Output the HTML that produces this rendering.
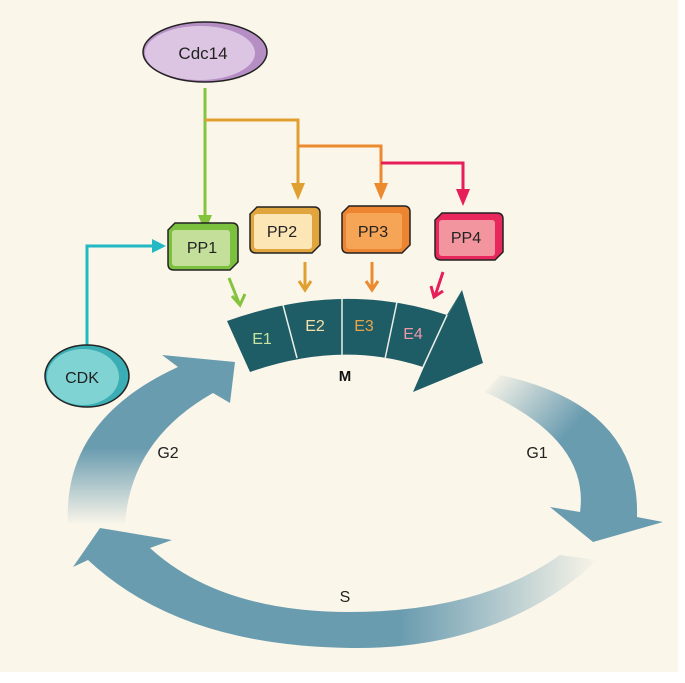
<!DOCTYPE html>
<html><head><meta charset="utf-8"><style>
html,body{margin:0;padding:0;background:#fff;}
svg{display:block;font-family:"Liberation Sans",sans-serif;}
</style></head><body>
<svg width="685" height="683" viewBox="0 0 685 683" xmlns="http://www.w3.org/2000/svg">
<defs>
<linearGradient id="gG2" x1="0" y1="355" x2="0" y2="525" gradientUnits="userSpaceOnUse">
<stop offset="0" stop-color="#6a9cb0"/><stop offset="0.55" stop-color="#6a9cb0"/><stop offset="1" stop-color="#fbf6ea"/></linearGradient>
<linearGradient id="gS" x1="100" y1="0" x2="600" y2="0" gradientUnits="userSpaceOnUse">
<stop offset="0" stop-color="#6a9cb0"/><stop offset="0.6" stop-color="#6a9cb0"/><stop offset="1" stop-color="#fbf6ea"/></linearGradient>
<linearGradient id="gG1" x1="500" y1="365" x2="620" y2="470" gradientUnits="userSpaceOnUse">
<stop offset="0" stop-color="#fbf6ea"/><stop offset="0.6" stop-color="#6a9cb0"/><stop offset="1" stop-color="#6a9cb0"/></linearGradient>
</defs>
<rect x="0" y="0" width="678" height="672" fill="#fbf6ea"/>

<!-- G2 arrow -->
<path d="M68,525 Q62,420 178,367 L162,355 L235,362 L230,403 L213,393 Q130,440 125,525 Z" fill="url(#gG2)"/>
<!-- S arrow -->
<path d="M73,567 L100,528 L172,540 L150,548 Q220,612 350,612 Q480,612 560,555 L598,560 Q500,650 350,648 Q180,646 88,560 Z" fill="url(#gS)"/>
<!-- G1 arrow -->
<path d="M500,375 Q640,405 637,517 L663,522 L593,542 L550,507 L580,512 Q590,440 485,392 Z" fill="url(#gG1)"/>

<!-- M band -->
<path d="M227,321 Q342,280 447,315 L423,367 Q342,340 250,372 Z" fill="#1f5d66"/>
<path d="M462,290 L483,363 L413,392 L440,330 Z" fill="#1f5d66"/>
<path d="M447,315 L462,290 L440,330 Z" fill="#1f5d66"/>
<g stroke="#e8eee6" stroke-width="1.5">
<line x1="283" y1="305" x2="297" y2="358"/>
<line x1="342" y1="297" x2="342" y2="355"/>
<line x1="397" y1="302" x2="385" y2="359"/>
<line x1="447" y1="315" x2="423" y2="367"/>
</g>
<g font-size="16">
<text x="262" y="344" text-anchor="middle" fill="#c7e3a0">E1</text>
<text x="315" y="331" text-anchor="middle" fill="#f6e2a8">E2</text>
<text x="364" y="331" text-anchor="middle" fill="#e8a448">E3</text>
<text x="413" y="339" text-anchor="middle" fill="#ec98a8">E4</text>
</g>
<text x="345" y="381" text-anchor="middle" font-size="15" font-weight="bold" fill="#111">M</text>
<text x="168" y="458" text-anchor="middle" font-size="16" fill="#222">G2</text>
<text x="537" y="458" text-anchor="middle" font-size="16" fill="#222">G1</text>
<text x="345" y="602" text-anchor="middle" font-size="16" fill="#222">S</text>

<!-- connectors -->
<g fill="none" stroke-width="3">
<polyline points="205,88 205,222" stroke="#84c43c"/>
<polyline points="205,120 298,120 298,190" stroke="#e0a030"/>
<polyline points="298,146 381,146 381,190" stroke="#ec8a30"/>
<polyline points="381,163 463,163 463,196" stroke="#e61e5a"/>
<polyline points="87,345 87,246 155,246" stroke="#22b8c4"/>
</g>
<polygon points="198,215 212,215 205,232" fill="#84c43c"/>
<polygon points="291,183 305,183 298,200" fill="#e0a030"/>
<polygon points="374,183 388,183 381,200" fill="#ec8a30"/>
<polygon points="456,189 470,189 463,206" fill="#e61e5a"/>
<polygon points="152,239 152,253 166,246" fill="#22b8c4"/>
<!-- small arrows -->
<g stroke-width="3" fill="none">
<path d="M229,278 L239,303 M232,296 L240,305 L245,294" stroke="#84c43c"/>
<path d="M305,262 L305,289 M299,281 L305,290 L311,281" stroke="#e0a030"/>
<path d="M372,262 L372,289 M366,281 L372,290 L378,281" stroke="#ec8a30"/>
<path d="M443,272 L435,296 M431,286 L434,297 L443,291" stroke="#e61e5a"/>
</g>

<!-- Cdc14 -->
<ellipse cx="205" cy="52" rx="62" ry="30" fill="#b58fc4" stroke="#222" stroke-width="1.5"/>
<ellipse cx="200" cy="53" rx="55" ry="27" fill="#dcc5e2"/>
<text x="203" y="59" text-anchor="middle" font-size="17" fill="#222">Cdc14</text>
<!-- CDK -->
<ellipse cx="87" cy="376" rx="42" ry="31" fill="#3aaeb4" stroke="#222" stroke-width="1.5"/>
<ellipse cx="83" cy="377" rx="36" ry="28" fill="#7fd3d3"/>
<text x="82" y="383" text-anchor="middle" font-size="16" fill="#222">CDK</text>

<!-- PP boxes -->
<g stroke="#222" stroke-width="1.5">
<path d="M175,223 L232,223 Q238,223 238,229 L238,262 L230,270 L174,270 Q168,270 168,264 L168,230 Z" fill="#7cc040"/>
<path d="M257,207 L314,207 Q320,207 320,213 L320,245 L312,253 L256,253 Q250,253 250,247 L250,214 Z" fill="#e0a53c"/>
<path d="M349,206 L404,206 Q410,206 410,212 L410,245 L402,253 L348,253 Q342,253 342,247 L342,213 Z" fill="#ec8430"/>
<path d="M442,213 L497,213 Q503,213 503,219 L503,252 L495,260 L441,260 Q435,260 435,254 L435,220 Z" fill="#e8285c"/>
</g>
<rect x="172" y="230" width="58" height="36" rx="3" fill="#c4df9a"/>
<rect x="254" y="214" width="58" height="35" rx="3" fill="#fde6b6"/>
<rect x="346" y="213" width="56" height="36" rx="3" fill="#f6a456"/>
<rect x="439" y="220" width="56" height="36" rx="3" fill="#f2959e"/>
<g font-size="16" fill="#222" text-anchor="middle">
<text x="202" y="253">PP1</text>
<text x="282" y="237">PP2</text>
<text x="373" y="237">PP3</text>
<text x="466" y="243">PP4</text>
</g>
</svg>
</body></html>
